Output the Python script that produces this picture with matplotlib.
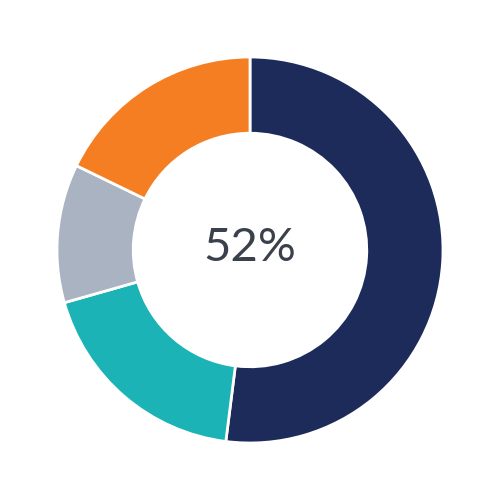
import matplotlib
matplotlib.use("Agg")
import matplotlib.pyplot as plt

# segment shares (%), clockwise from 12 o'clock
labels = ["Navy", "Teal", "Gray", "Orange"]
shares = [52.0, 18.6, 11.6, 17.8]
colors = ["#1c2b59", "#1bb3b5", "#a9b3c1", "#f47e21"]
center_label = "52%"

fig = plt.figure(figsize=(5, 5), dpi=100)
ax = fig.add_axes([0, 0, 1, 1])

ax.pie(
    shares,
    colors=colors,
    startangle=90,
    counterclock=False,
    radius=1.0,
    wedgeprops=dict(width=0.395, edgecolor="white", linewidth=2),
)

ax.text(0, 0.01, center_label, ha="center", va="center",
        fontsize=34, family=["Lato", "DejaVu Sans"], fontweight="normal",
        color="#3a414c")

lim = 250 / 193
ax.set_xlim(-lim, lim)
ax.set_ylim(-lim, lim)
ax.set_aspect("equal")
ax.axis("off")

fig.savefig("out.png", dpi=100, facecolor="white")
